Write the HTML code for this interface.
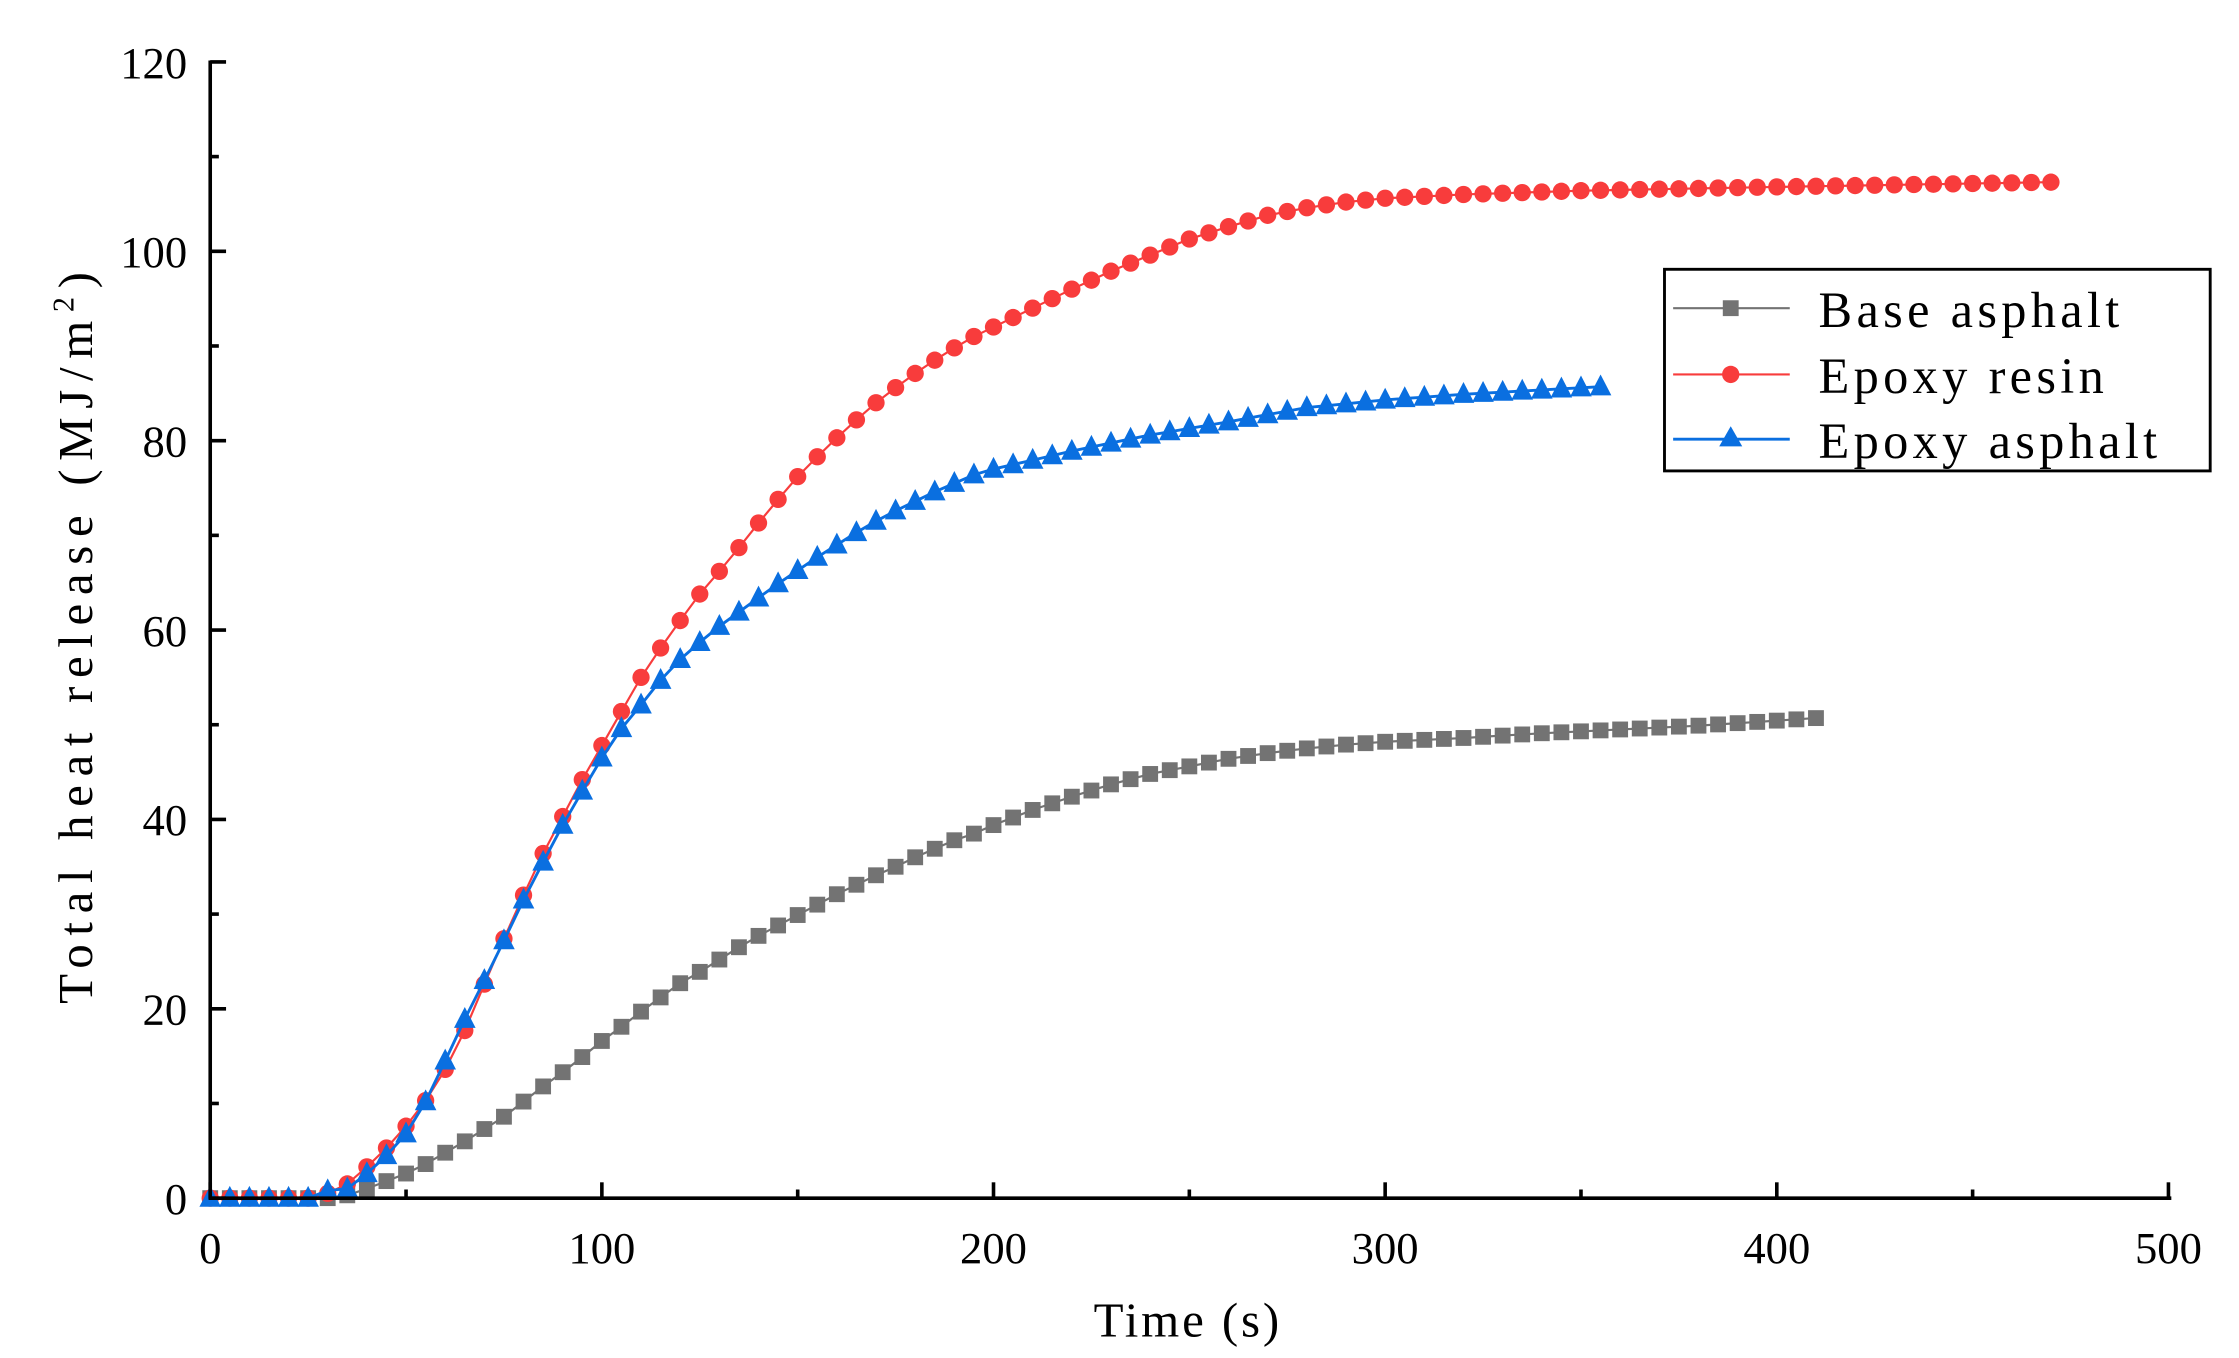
<!DOCTYPE html>
<html><head><meta charset="utf-8"><style>
html,body{margin:0;padding:0;background:#fff;}
svg{display:block;}
text{font-family:"Liberation Serif",serif;fill:#000;}
</style></head><body>
<svg id="s" width="2239" height="1358" viewBox="0 0 1555 943" preserveAspectRatio="none" xmlns="http://www.w3.org/2000/svg">
<rect width="1555" height="943" fill="#fff"/>
<g id="plot"></g>
<g id="axes" stroke="#000" stroke-width="2.5" fill="none">
<line x1="146" y1="42" x2="146" y2="833"/>
<line x1="145" y1="832" x2="1508" y2="832"/>
</g>
<g id="ticks" stroke="#000" stroke-width="2.5"></g>
<g id="labels" font-size="31"></g>
<text x="825" y="928" font-size="34" text-anchor="middle" letter-spacing="2">Time (s)</text>
<text transform="translate(64,440) rotate(-90)" font-size="34" text-anchor="middle" letter-spacing="6">Total heat release (MJ/m<tspan font-size="21" dy="-13">2</tspan><tspan dy="13">)</tspan></text>
<rect x="1156" y="187" width="379" height="140" fill="#fff" stroke="#000" stroke-width="2"/>
<line x1="1162" y1="214" x2="1243" y2="214" stroke="#737373" stroke-width="1.5"/>
<rect x="1196.5" y="208.5" width="11" height="11" fill="#737373"/>
<line x1="1162" y1="260" x2="1243" y2="260" stroke="#f83c3c" stroke-width="1.5"/>
<circle cx="1202" cy="260" r="6" fill="#f83c3c"/>
<line x1="1162" y1="305" x2="1243" y2="305" stroke="#0a6fe0" stroke-width="2"/>
<polygon points="1202,296 1194,310 1210,310" fill="#0a6fe0"/>
<text x="1263" y="227" font-size="35" letter-spacing="3">Base asphalt</text>
<text x="1263" y="273" font-size="35" letter-spacing="3">Epoxy resin</text>
<text x="1263" y="318" font-size="35" letter-spacing="3">Epoxy asphalt</text>
</svg>
<script>
const NS="http://www.w3.org/2000/svg";
const X=t=>146+t*(1506-146)/500, Y=v=>832-v*(832-43)/120;
function el(n,a,p){const e=document.createElementNS(NS,n);for(const k in a)e.setAttribute(k,a[k]);p.appendChild(e);return e;}
const tk=document.getElementById('ticks'),lb=document.getElementById('labels');
for(let t=0;t<=500;t+=50){const maj=t%100==0;el('line',{x1:X(t),x2:X(t),y1:832,y2:832-(maj?11:6)},tk);
 if(maj){const e=el('text',{x:X(t),y:877,'text-anchor':'middle'},lb);e.textContent=t;}}
for(let v=0;v<=120;v+=10){const maj=v%20==0;el('line',{x1:146,x2:146+(maj?11:6),y1:Y(v),y2:Y(v)},tk);
 if(maj){const e=el('text',{x:130,y:Y(v)+11,'text-anchor':'end'},lb);e.textContent=v;}}
function interp(k,t){for(let i=1;i<k.length;i++){if(t<=k[i][0]){const a=k[i-1],b=k[i];return a[1]+(b[1]-a[1])*(t-a[0])/(b[0]-a[0]);}}return k[k.length-1][1];}
const gray=[[0,0],[30,0],[35,0.3],[40,1],[45,1.8],[50,2.6],[55,3.6],[60,4.8],[65,6],[70,7.3],[75,8.6],[80,10.2],[85,11.8],[90,13.3],[95,14.9],[100,16.6],[105,18.1],[110,19.7],[115,21.2],[120,22.7],[125,23.9],[130,25.2],[135,26.5],[140,27.7],[145,28.8],[150,29.9],[155,31],[160,32.1],[165,33.1],[170,34.1],[175,35],[180,36],[185,36.9],[190,37.8],[195,38.5],[200,39.4],[210,41],[220,42.4],[230,43.7],[240,44.8],[250,45.6],[260,46.4],[270,47],[280,47.5],[290,47.9],[300,48.2],[320,48.6],[340,49.1],[360,49.5],[380,49.9],[410,50.7]];
const red=[[0,0],[25,0],[30,0.5],[35,1.5],[40,3.3],[45,5.3],[50,7.6],[55,10.3],[60,13.6],[65,17.7],[70,22.6],[75,27.4],[80,32],[85,36.4],[90,40.3],[95,44.2],[100,47.8],[105,51.4],[110,55],[115,58.1],[120,61],[125,63.8],[130,66.2],[135,68.7],[140,71.3],[145,73.8],[150,76.2],[155,78.3],[160,80.3],[165,82.2],[170,84],[175,85.6],[180,87.1],[185,88.5],[190,89.8],[195,91],[200,92],[210,94],[220,96],[230,97.9],[240,99.6],[250,101.3],[260,102.6],[270,103.8],[280,104.6],[290,105.2],[300,105.6],[320,106],[350,106.4],[400,106.8],[470,107.3]];
const blue=[[0,0],[25,0],[30,0.8],[35,1],[40,2.6],[45,4.5],[50,6.8],[55,10.2],[60,14.5],[65,18.9],[70,23],[75,27.2],[80,31.5],[85,35.5],[90,39.4],[95,43],[100,46.5],[105,49.6],[110,52.1],[115,54.7],[120,56.9],[125,58.7],[130,60.4],[135,61.9],[140,63.4],[145,64.9],[150,66.3],[155,67.7],[160,69],[165,70.3],[170,71.5],[175,72.6],[180,73.6],[185,74.6],[190,75.5],[195,76.4],[200,77],[220,78.9],[240,80.6],[260,82],[280,83.5],[300,84.3],[320,84.9],[355,85.7]];
const pl=document.getElementById('plot');
function series(k,end,col,w,mk){let d='';const pts=[];for(let t=0;t<=end;t+=5){const x=X(t),y=Y(interp(k,t));pts.push([x,y]);d+=(d?'L':'M')+x.toFixed(1)+','+y.toFixed(1);}
 el('path',{d:d,stroke:col,'stroke-width':w,fill:'none'},pl);
 for(const [x,y] of pts){if(mk=='s')el('rect',{x:x-5.5,y:y-5.5,width:11,height:11,fill:col},pl);
 else if(mk=='c')el('circle',{cx:x,cy:y,r:6,fill:col},pl);
 else el('polygon',{points:`${x},${y-8.5} ${x-7.5},${y+6} ${x+7.5},${y+6}`,fill:col},pl);}}
series(gray,410,'#737373',1.5,'s');
series(red,470,'#f83c3c',1.5,'c');
series(blue,355,'#0a6fe0',2,'t');
</script>
</body></html>
